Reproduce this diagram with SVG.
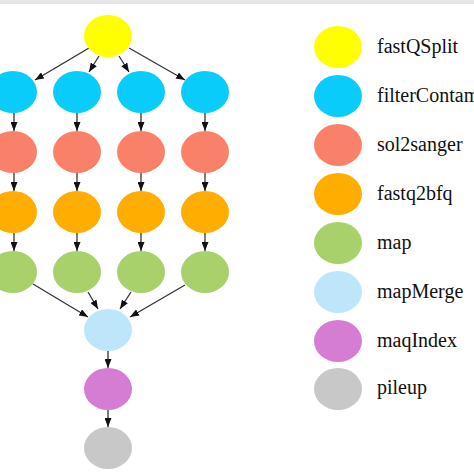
<svg xmlns="http://www.w3.org/2000/svg" width="474" height="474" viewBox="0 0 474 474">
<style>
.e{stroke:#333;stroke-width:1.3;fill:none;marker-end:url(#ah)}
.t{font-family:"Liberation Serif","Times New Roman",serif;font-size:20px;fill:#111}
.y{fill:#ffff00}.b{fill:#0accfb}.s{fill:#fa8169}.o{fill:#ffad00}.g{fill:#a8d06b}.lb{fill:#bde6fb}.p{fill:#d47dd2}.gr{fill:#c8c8c8}
</style>
<defs>
<marker id="ah" markerUnits="userSpaceOnUse" markerWidth="9" markerHeight="7" refX="9" refY="3.5" orient="auto">
<path d="M0,0 L9,3.5 L0,7 z" fill="#111"/>
</marker>
</defs>
<rect x="0" y="0" width="474" height="474" fill="#fff"/>
<rect x="0" y="0" width="474" height="4" fill="#e6e6e6"/>
<g id="connectors">
<line class="e" x1="89" y1="48" x2="35" y2="80"/>
<line class="e" x1="99" y1="56" x2="89" y2="72"/>
<line class="e" x1="119" y1="56" x2="129" y2="72"/>
<line class="e" x1="129" y1="48" x2="185" y2="80"/>
<line class="e" x1="14" y1="113" x2="14" y2="131"/>
<line class="e" x1="77" y1="113" x2="77" y2="131"/>
<line class="e" x1="141" y1="113" x2="141" y2="131"/>
<line class="e" x1="205" y1="113" x2="205" y2="131"/>
<line class="e" x1="14" y1="173" x2="14" y2="191"/>
<line class="e" x1="77" y1="173" x2="77" y2="191"/>
<line class="e" x1="141" y1="173" x2="141" y2="191"/>
<line class="e" x1="205" y1="173" x2="205" y2="191"/>
<line class="e" x1="14" y1="233" x2="14" y2="251"/>
<line class="e" x1="77" y1="233" x2="77" y2="251"/>
<line class="e" x1="141" y1="233" x2="141" y2="251"/>
<line class="e" x1="205" y1="233" x2="205" y2="251"/>
<line class="e" x1="33" y1="284" x2="88" y2="317"/>
<line class="e" x1="88" y1="292" x2="98" y2="309"/>
<line class="e" x1="131" y1="292" x2="120" y2="309"/>
<line class="e" x1="185" y1="285" x2="130" y2="317"/>
<line class="e" x1="108" y1="351" x2="108" y2="368"/>
<line class="e" x1="108" y1="410" x2="108" y2="427"/>
</g>
<g id="fastQSplit"><ellipse class="y" cx="108" cy="36" rx="24" ry="21"/></g>
<g id="filterContams_1"><ellipse class="b" cx="13" cy="92" rx="24" ry="21"/></g>
<g id="filterContams_2"><ellipse class="b" cx="77" cy="92" rx="24" ry="21"/></g>
<g id="filterContams_3"><ellipse class="b" cx="141" cy="92" rx="24" ry="21"/></g>
<g id="filterContams_4"><ellipse class="b" cx="205" cy="92" rx="24" ry="21"/></g>
<g id="sol2sanger_1"><ellipse class="s" cx="13" cy="152" rx="24" ry="21"/></g>
<g id="sol2sanger_2"><ellipse class="s" cx="77" cy="152" rx="24" ry="21"/></g>
<g id="sol2sanger_3"><ellipse class="s" cx="141" cy="152" rx="24" ry="21"/></g>
<g id="sol2sanger_4"><ellipse class="s" cx="205" cy="152" rx="24" ry="21"/></g>
<g id="fastq2bfq_1"><ellipse class="o" cx="13" cy="212" rx="24" ry="21"/></g>
<g id="fastq2bfq_2"><ellipse class="o" cx="77" cy="212" rx="24" ry="21"/></g>
<g id="fastq2bfq_3"><ellipse class="o" cx="141" cy="212" rx="24" ry="21"/></g>
<g id="fastq2bfq_4"><ellipse class="o" cx="205" cy="212" rx="24" ry="21"/></g>
<g id="map_1"><ellipse class="g" cx="13" cy="272" rx="24" ry="21"/></g>
<g id="map_2"><ellipse class="g" cx="77" cy="272" rx="24" ry="21"/></g>
<g id="map_3"><ellipse class="g" cx="141" cy="272" rx="24" ry="21"/></g>
<g id="map_4"><ellipse class="g" cx="205" cy="272" rx="24" ry="21"/></g>
<g id="mapMerge"><ellipse class="lb" cx="108" cy="330" rx="24" ry="21"/></g>
<g id="maqIndex"><ellipse class="p" cx="108" cy="389" rx="24" ry="21"/></g>
<g id="pileup"><ellipse class="gr" cx="108" cy="448" rx="24" ry="21"/></g>
<g id="legend">
<ellipse class="y" cx="338" cy="47" rx="24" ry="21"/><text class="t" x="377" y="53">fastQSplit</text>
<ellipse class="b" cx="338" cy="96" rx="24" ry="21"/><text class="t" x="377" y="102">filterContams</text>
<ellipse class="s" cx="338" cy="145" rx="24" ry="21"/><text class="t" x="377" y="151">sol2sanger</text>
<ellipse class="o" cx="338" cy="194" rx="24" ry="21"/><text class="t" x="377" y="200">fastq2bfq</text>
<ellipse class="g" cx="338" cy="243" rx="24" ry="21"/><text class="t" x="377" y="249">map</text>
<ellipse class="lb" cx="338" cy="292" rx="24" ry="21"/><text class="t" x="377" y="298">mapMerge</text>
<ellipse class="p" cx="338" cy="341" rx="24" ry="21"/><text class="t" x="377" y="347">maqIndex</text>
<ellipse class="gr" cx="338" cy="389" rx="24" ry="21"/><text class="t" x="377" y="394">pileup</text>
</g>
</svg>
